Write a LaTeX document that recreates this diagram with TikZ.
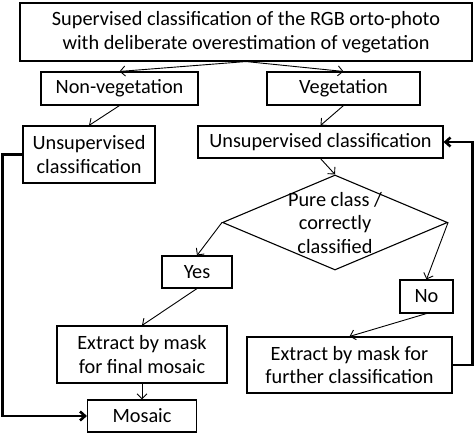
\documentclass[tikz,border=0pt]{standalone}
\usepackage{fontspec}
\setmainfont{Carlito}
\usetikzlibrary{arrows.meta,shapes.geometric}

\tikzset{
  box/.style={draw,line width=1.1pt,inner sep=0pt,align=center},
  decision/.style={draw,line width=1.1pt,diamond,inner sep=0pt,
    minimum width=225pt,minimum height=95pt},
  flow/.style={line width=0.9pt,-{Straight Barb[length=5pt,width=10pt]}},
  loop/.style={line width=2.6pt,-{Straight Barb[length=5pt,width=9pt]}}
}

\begin{document}
\begin{tikzpicture}[x=1pt,y=-1pt,font=\fontsize{20.3}{23.5}\selectfont]
\useasboundingbox (0,0) rectangle (474,439);

\node[box,minimum width=452pt,minimum height=58pt] (super) at (246,32)
  {Supervised classification of the RGB orto-photo\\with deliberate overestimation of vegetation};

\node[box,minimum width=157pt,minimum height=33pt] (nonveg) at (119.5,88.5) {Non-vegetation};
\node[box,minimum width=153pt,minimum height=33pt] (veg) at (343.5,88.5) {Vegetation};

\node[box,minimum width=132pt,minimum height=57pt] (unsup-nv) at (89,154.5) {Unsupervised\\classification};
\node[box,minimum width=245pt,minimum height=32pt] (unsup-v) at (320.5,142) {Unsupervised classification};

\node[decision] (pure) at (335,222.5) {};
\node[align=center,inner sep=0pt] (pure-txt) at (335,223) {Pure class /\\correctly\\classified};

\node[box,minimum width=70pt,minimum height=32pt] (yes) at (197,272) {Yes};
\node[box,minimum width=53pt,minimum height=33pt] (no) at (426.5,296.5) {No};

\node[box,minimum width=170pt,minimum height=57pt] (ext-final) at (142,354.5) {Extract by mask\\for final mosaic};
\node[box,minimum width=205pt,minimum height=56pt] (ext-further) at (349.5,365) {Extract by mask for\\further classification};

\node[box,minimum width=109pt,minimum height=32pt] (mosaic) at (142,416) {Mosaic};

\draw[flow] (super.south) -- (nonveg.north);
\draw[flow] (super.south) -- (veg.north);
\draw[flow] (nonveg.south) -- (unsup-nv.north);
\draw[flow] (veg.south) -- (unsup-v.north);
\draw[flow] (unsup-v.south) -- (pure.north);
\draw[flow] (pure.west) -- (yes.north);
\draw[flow] (pure.east) -- (no.north);
\draw[flow] (yes.south) -- (ext-final.north);
\draw[flow] (no.south) -- (ext-further.north);
\draw[flow] (ext-final.south) -- (mosaic.north);

\draw[loop] (ext-further.east) -- ++(20,0) |- (unsup-v.east);
\draw[loop] (unsup-nv.west) -- ++(-20,0) |- (mosaic.west);

\end{tikzpicture}
\end{document}
